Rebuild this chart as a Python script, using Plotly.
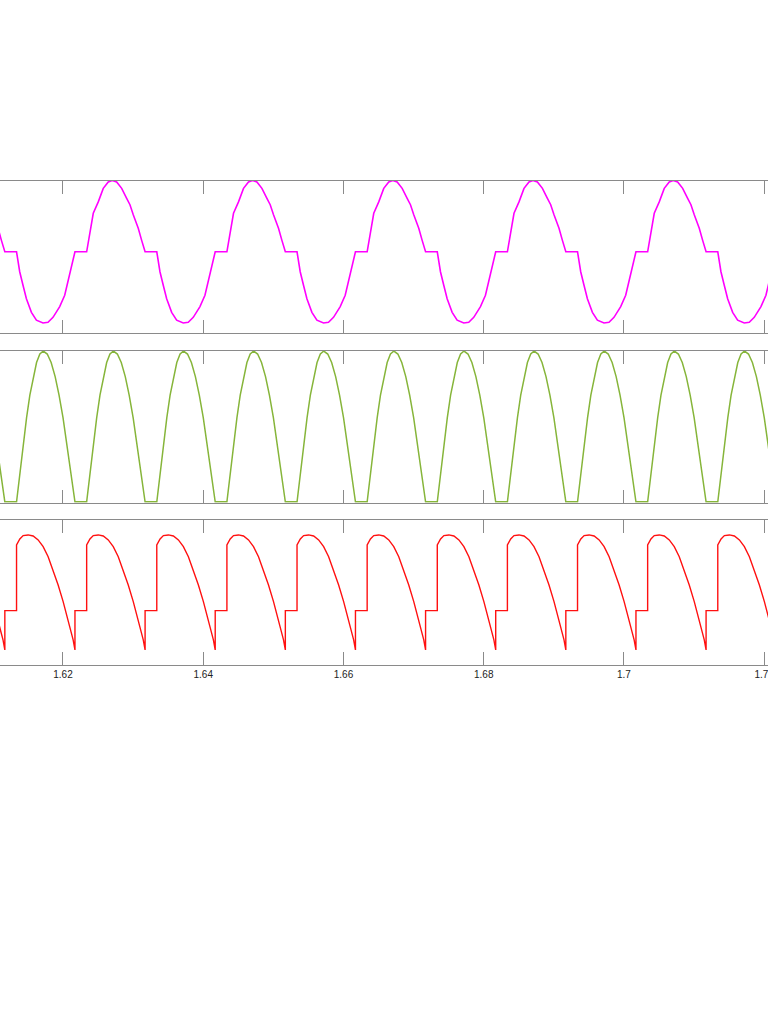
import plotly.graph_objects as go

# ---- axis data ----
x_range = [1.61102, 1.72054]
tick_vals = [1.62, 1.64, 1.66, 1.68, 1.70, 1.72]
tick_text = ["1.62", "1.64", "1.66", "1.68", "1.7", "1.72"]

# ---- top (magenta) : one 20 ms cycle, offsets in ms
top_cycle_ms = [0.0, 1.668, 2.610, 3.323, 4.036, 4.749, 5.319, 5.947, 6.660,
                7.372, 7.843, 8.314, 9.027, 9.512, 10.0, 11.667, 12.121,
                12.592, 13.076, 13.790, 14.502, 15.444, 16.157, 16.870,
                17.825, 18.538, 19.251]
top_cycle_val = [0, 0, 0.54, 0.70, 0.89, 0.98, 1.00, 0.98, 0.89,
                 0.75, 0.66, 0.52, 0.33, 0.16, 0, 0, -0.28,
                 -0.47, -0.66, -0.85, -0.96, -1.00, -0.99, -0.92,
                 -0.77, -0.61, -0.33]
top_cycle_starts = [1.60171, 1.62171, 1.64171, 1.66171, 1.68171, 1.70171, 1.72171]

# ---- middle (green) : one conduction arch, offsets in ms
green_arch_ms = [0, 0.471, 0.955, 1.426, 1.897, 2.381, 2.852, 3.323, 3.807,
                 4.378, 4.934, 5.504, 6.061, 6.631, 7.201, 7.758, 8.328]
green_arch_val = [0, 0.195, 0.38, 0.556, 0.707, 0.83, 0.924, 0.98, 1.0,
                  0.98, 0.924, 0.83, 0.707, 0.556, 0.38, 0.195, 0]
green_arch_starts = [1.60338, 1.61338, 1.62338, 1.63338, 1.64338, 1.65338,
                     1.66338, 1.67338, 1.68338, 1.69338, 1.70338, 1.71338, 1.72338]

# ---- bottom (red) : one 10 ms cycle, offsets in ms
red_cycle_ms = [0, 0, 1.668, 1.668, 2.139, 2.610, 3.323, 4.036, 4.749,
                5.462, 6.175, 6.888, 7.601, 8.314, 9.027, 9.740]
red_cycle_val = [0, 0.342, 0.342, 0.913, 0.965, 0.994, 1.0, 0.991, 0.957,
                 0.898, 0.811, 0.696, 0.565, 0.42, 0.261, 0.087]
red_cycle_starts = [1.60171, 1.61171, 1.62171, 1.63171, 1.64171, 1.65171,
                    1.66171, 1.67171, 1.68171, 1.69171, 1.70171, 1.71171, 1.72171]


def build(starts, offs_ms, vals):
    xs, ys = [], []
    for s in starts:
        for o, v in zip(offs_ms, vals):
            xs.append(s + o / 1000.0)
            ys.append(v)
    return xs, ys


tx, ty = build(top_cycle_starts, top_cycle_ms, top_cycle_val)
gx, gy = build(green_arch_starts, green_arch_ms, green_arch_val)
rx, ry = build(red_cycle_starts, red_cycle_ms, red_cycle_val)

fig = go.Figure()
fig.add_trace(go.Scatter(x=tx, y=ty, mode="lines", xaxis="x", yaxis="y",
                         line=dict(color="#ff00ff", width=1.6), showlegend=False))
fig.add_trace(go.Scatter(x=gx, y=gy, mode="lines", xaxis="x2", yaxis="y2",
                         line=dict(color="#86b53a", width=1.5), showlegend=False))
fig.add_trace(go.Scatter(x=rx, y=ry, mode="lines", xaxis="x3", yaxis="y3",
                         line=dict(color="#ff1010", width=1.4), showlegend=False))

xcommon = dict(range=x_range, showline=True, mirror="ticks", linecolor="#8a8a8a",
               linewidth=1.2, ticks="inside", ticklen=13, tickwidth=1.2,
               tickcolor="#8a8a8a", tickvals=tick_vals, ticktext=tick_text,
               showgrid=False, zeroline=False, ticklabeloverflow="allow",
               automargin=False,
               tickfont=dict(family="Liberation Sans, Arial", size=10, color="#222222"))
ycommon = dict(showline=False, showticklabels=False, ticks="", showgrid=False,
               zeroline=False, automargin=False)

fig.update_layout(
    width=768, height=1024,
    margin=dict(l=0, r=0, t=0, b=0, autoexpand=False),
    paper_bgcolor="white", plot_bgcolor="white",
    xaxis=dict(xcommon, anchor="y", showticklabels=False),
    xaxis2=dict(xcommon, anchor="y2", showticklabels=False),
    xaxis3=dict(xcommon, anchor="y3", showticklabels=True),
    yaxis=dict(ycommon, domain=[0.6751, 0.8237], range=[-1.136, 1.0]),
    yaxis2=dict(ycommon, domain=[0.5091, 0.6572], range=[-0.006, 1.0]),
    yaxis3=dict(ycommon, domain=[0.3509, 0.4922], range=[-0.128, 1.130]),
)

fig.write_html(
    "out.html", config={"displayModeBar": False},
    post_script=("document.documentElement.style.overflow='hidden';"
                 "document.body.style.overflow='hidden';"
                 "document.body.style.margin='0px';"))
